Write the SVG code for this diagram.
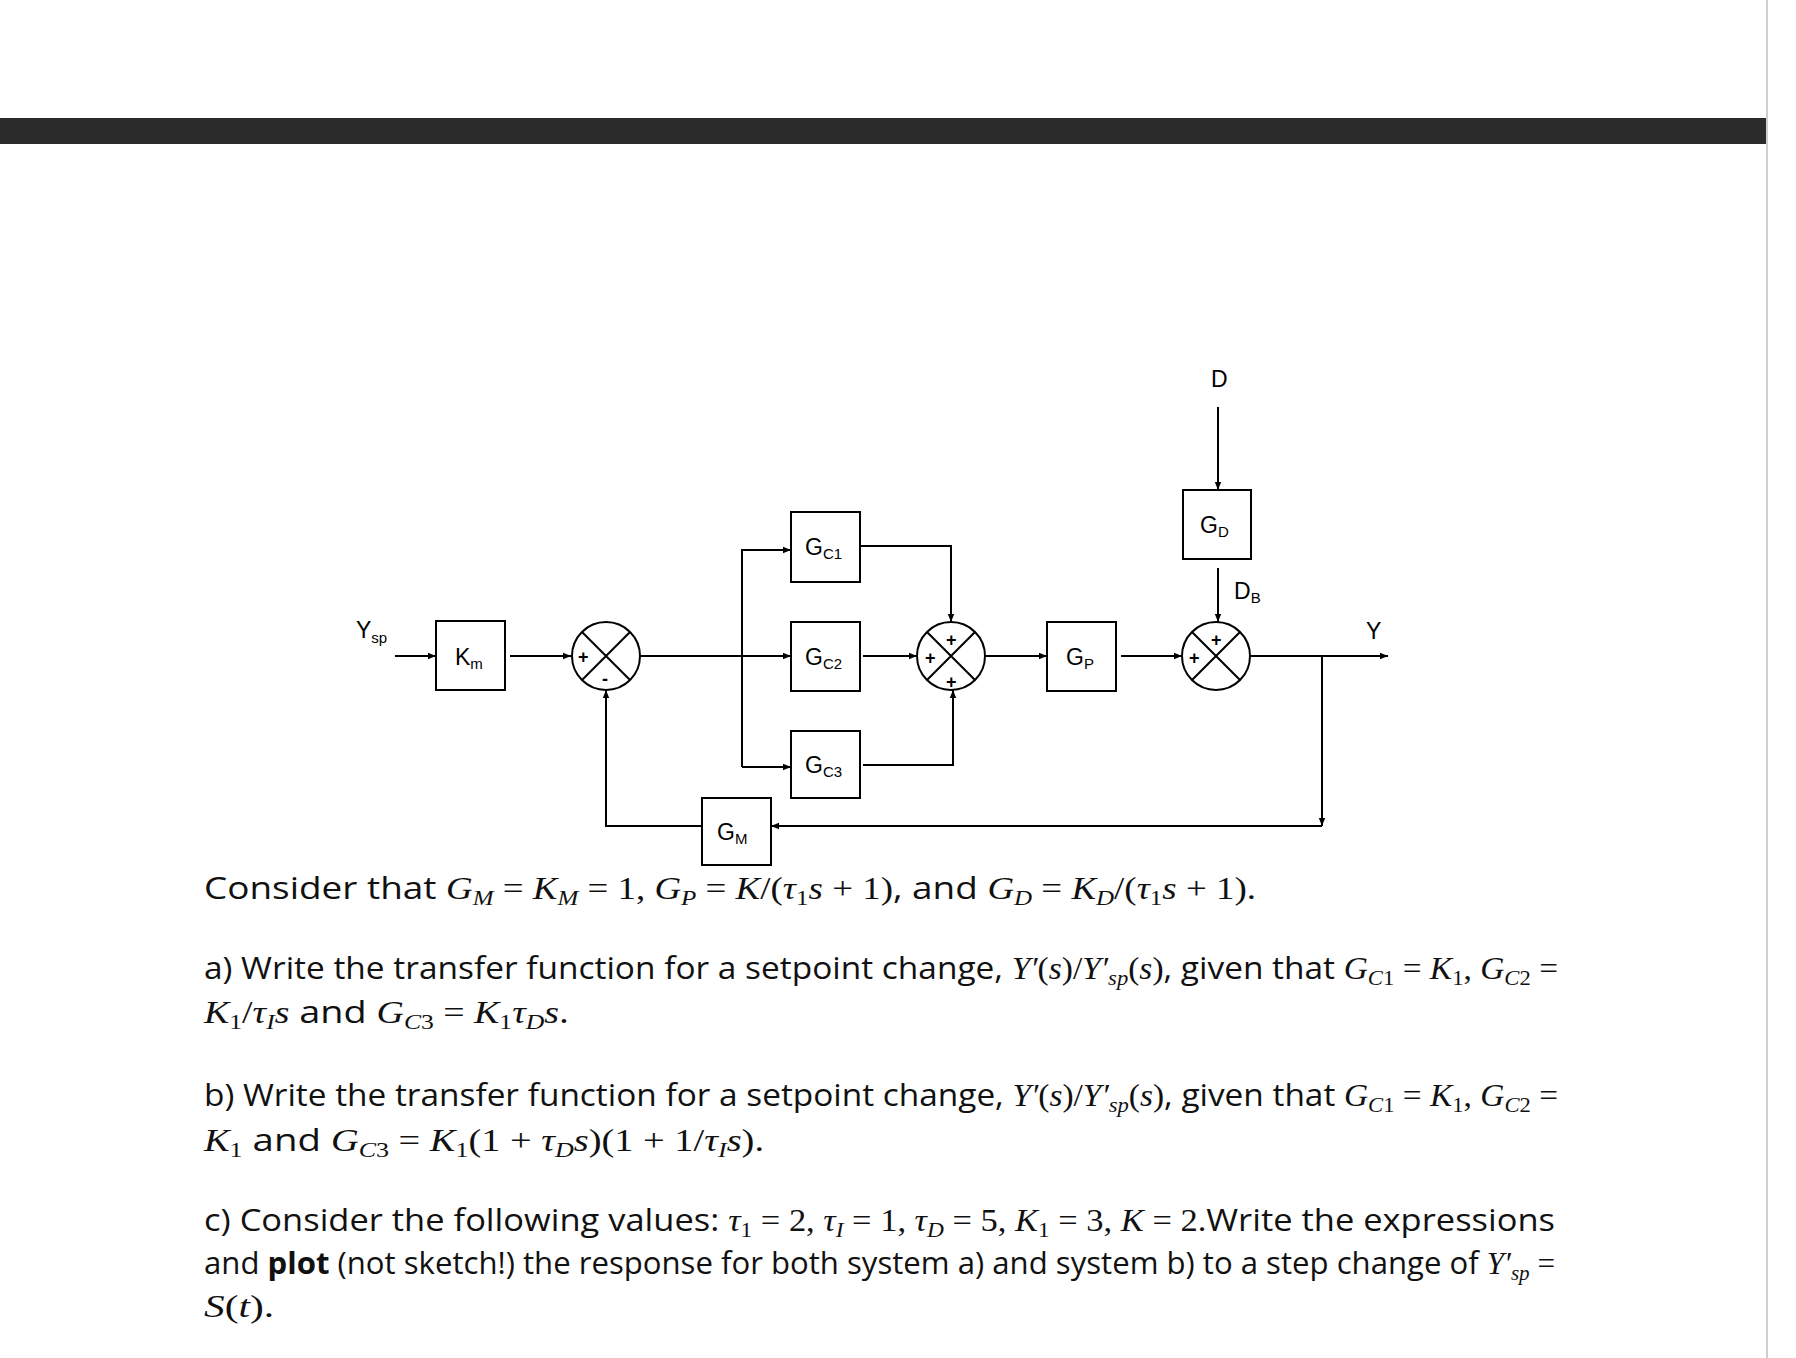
<svg xmlns="http://www.w3.org/2000/svg" width="1796" height="1358" viewBox="0 0 1796 1358">
<defs>
<marker id="ah" viewBox="0 0 10 10" refX="10" refY="5" markerWidth="8" markerHeight="8" markerUnits="userSpaceOnUse" orient="auto"><path d="M0,1 L10,5 L0,9 z" fill="#000"/></marker>
<style>
.b{fill:#fff;stroke:#000;stroke-width:2}
.l{fill:none;stroke:#000;stroke-width:2}
.t{font-family:"Liberation Sans",Arial,sans-serif;font-size:23px;fill:#000}
.s{font-size:15px}
.p{font-family:"Liberation Sans",Arial,sans-serif;font-size:18px;font-weight:bold}
.q{font-family:"Open Sans","Liberation Sans",sans-serif;font-size:31px;fill:#111}
.m{font-family:"Liberation Serif",serif;font-style:italic}
.n{font-family:"Liberation Serif",serif}
.u{font-size:21px}
</style>
</defs>
<rect width="1796" height="1358" fill="#fff"/>
<rect x="0" y="118" width="1767" height="26" fill="#2b2b2b"/>
<line x1="1767" y1="0" x2="1767" y2="1358" stroke="#cfcfcf" stroke-width="2"/>
<g id="connectors">
<path class="l" d="M395,656 H436" marker-end="url(#ah)"/>
<path class="l" d="M510,656 H571" marker-end="url(#ah)"/>
<path class="l" d="M640,656 H791" marker-end="url(#ah)"/>
<path class="l" d="M742,767 V550 H791" marker-end="url(#ah)"/>
<path class="l" d="M742,767 H791" marker-end="url(#ah)"/>
<path class="l" d="M861,546 H951 V622" marker-end="url(#ah)"/>
<path class="l" d="M863,656 H917" marker-end="url(#ah)"/>
<path class="l" d="M863,765 H953 V690" marker-end="url(#ah)"/>
<path class="l" d="M985,656 H1047" marker-end="url(#ah)"/>
<path class="l" d="M1121,656 H1182" marker-end="url(#ah)"/>
<path class="l" d="M1218,407 V490" marker-end="url(#ah)"/>
<path class="l" d="M1218,568 V622" marker-end="url(#ah)"/>
<path class="l" d="M1250,656 H1388" marker-end="url(#ah)"/>
<path class="l" d="M1322,656 V826" marker-end="url(#ah)"/>
<path class="l" d="M1322,826 H771" marker-end="url(#ah)"/>
<path class="l" d="M702,826 H606 V690" marker-end="url(#ah)"/>
</g>
<g id="Ysp"><text class="t" x="356" y="638">Y<tspan class="s" dy="5">sp</tspan></text></g>
<g id="Km"><rect class="b" x="436" y="621" width="69" height="69"/><text class="t" x="455" y="665">K<tspan class="s" dy="4">m</tspan></text></g>
<g id="sum1"><circle class="b" cx="606" cy="656" r="34"/><path class="l" d="M582,632 L630,680 M630,632 L582,680"/><text class="p" x="578" y="663">+</text><text class="p" x="602" y="685">-</text></g>
<g id="GC1"><rect class="b" x="791" y="512" width="69" height="70"/><text class="t" x="805" y="555">G<tspan class="s" dy="4">C1</tspan></text></g>
<g id="GC2"><rect class="b" x="791" y="622" width="69" height="69"/><text class="t" x="805" y="665">G<tspan class="s" dy="4">C2</tspan></text></g>
<g id="GC3"><rect class="b" x="791" y="731" width="69" height="67"/><text class="t" x="805" y="773">G<tspan class="s" dy="4">C3</tspan></text></g>
<g id="sum2"><circle class="b" cx="951" cy="656" r="34"/><path class="l" d="M927,632 L975,680 M975,632 L927,680"/><text class="p" x="946" y="646">+</text><text class="p" x="925" y="664">+</text><text class="p" x="946" y="688">+</text></g>
<g id="GP"><rect class="b" x="1047" y="622" width="69" height="69"/><text class="t" x="1066" y="665">G<tspan class="s" dy="4">P</tspan></text></g>
<g id="sum3"><circle class="b" cx="1216" cy="656" r="34"/><path class="l" d="M1192,632 L1240,680 M1240,632 L1192,680"/><text class="p" x="1211" y="646">+</text><text class="p" x="1189" y="664">+</text></g>
<g id="D"><text class="t" x="1211" y="387">D</text></g>
<g id="GD"><rect class="b" x="1183" y="490" width="68" height="69"/><text class="t" x="1200" y="533">G<tspan class="s" dy="4">D</tspan></text></g>
<g id="DB"><text class="t" x="1234" y="599">D<tspan class="s" dy="4">B</tspan></text></g>
<g id="Y"><text class="t" x="1366" y="639">Y</text></g>
<g id="GM"><rect class="b" x="702" y="798" width="69" height="67"/><text class="t" x="717" y="840">G<tspan class="s" dy="4">M</tspan></text></g>
<g id="text">
<text class="q" x="204" y="899" textLength="1052" lengthAdjust="spacingAndGlyphs">Consider that <tspan class="m">G</tspan><tspan class="m u" dy="6">M</tspan><tspan class="n" dy="-6"> = </tspan><tspan class="m">K</tspan><tspan class="m u" dy="6">M</tspan><tspan class="n" dy="-6"> = 1, </tspan><tspan class="m">G</tspan><tspan class="m u" dy="6">P</tspan><tspan class="n" dy="-6"> = </tspan><tspan class="m">K</tspan><tspan class="n">/(</tspan><tspan class="m">τ</tspan><tspan class="n u" dy="6">1</tspan><tspan class="m" dy="-6">s</tspan><tspan class="n"> + 1)</tspan>, and <tspan class="m">G</tspan><tspan class="m u" dy="6">D</tspan><tspan class="n" dy="-6"> = </tspan><tspan class="m">K</tspan><tspan class="m u" dy="6">D</tspan><tspan class="n" dy="-6">/(</tspan><tspan class="m">τ</tspan><tspan class="n u" dy="6">1</tspan><tspan class="m" dy="-6">s</tspan><tspan class="n"> + 1).</tspan></text>
<text class="q" x="204" y="979" textLength="1354" lengthAdjust="spacingAndGlyphs">a) Write the transfer function for a setpoint change, <tspan class="m">Y′</tspan><tspan class="n">(</tspan><tspan class="m">s</tspan><tspan class="n">)/</tspan><tspan class="m">Y′</tspan><tspan class="m u" dy="6">sp</tspan><tspan class="n" dy="-6">(</tspan><tspan class="m">s</tspan><tspan class="n">)</tspan>, given that <tspan class="m">G</tspan><tspan class="m u" dy="6">C</tspan><tspan class="n u">1</tspan><tspan class="n" dy="-6"> = </tspan><tspan class="m">K</tspan><tspan class="n u" dy="6">1</tspan><tspan class="n" dy="-6">, </tspan><tspan class="m">G</tspan><tspan class="m u" dy="6">C</tspan><tspan class="n u">2</tspan><tspan class="n" dy="-6"> =</tspan></text>
<text class="q" x="204" y="1023" textLength="365" lengthAdjust="spacingAndGlyphs"><tspan class="m">K</tspan><tspan class="n u" dy="6">1</tspan><tspan class="n" dy="-6">/</tspan><tspan class="m">τ</tspan><tspan class="m u" dy="6">I</tspan><tspan class="m" dy="-6">s</tspan> and <tspan class="m">G</tspan><tspan class="m u" dy="6">C</tspan><tspan class="n u">3</tspan><tspan class="n" dy="-6"> = </tspan><tspan class="m">K</tspan><tspan class="n u" dy="6">1</tspan><tspan class="m" dy="-6">τ</tspan><tspan class="m u" dy="6">D</tspan><tspan class="m" dy="-6">s</tspan>.</text>
<text class="q" x="204" y="1106" textLength="1354" lengthAdjust="spacingAndGlyphs">b) Write the transfer function for a setpoint change, <tspan class="m">Y′</tspan><tspan class="n">(</tspan><tspan class="m">s</tspan><tspan class="n">)/</tspan><tspan class="m">Y′</tspan><tspan class="m u" dy="6">sp</tspan><tspan class="n" dy="-6">(</tspan><tspan class="m">s</tspan><tspan class="n">)</tspan>, given that <tspan class="m">G</tspan><tspan class="m u" dy="6">C</tspan><tspan class="n u">1</tspan><tspan class="n" dy="-6"> = </tspan><tspan class="m">K</tspan><tspan class="n u" dy="6">1</tspan><tspan class="n" dy="-6">, </tspan><tspan class="m">G</tspan><tspan class="m u" dy="6">C</tspan><tspan class="n u">2</tspan><tspan class="n" dy="-6"> =</tspan></text>
<text class="q" x="204" y="1151" textLength="560" lengthAdjust="spacingAndGlyphs"><tspan class="m">K</tspan><tspan class="n u" dy="6">1</tspan><tspan dy="-6"> and </tspan><tspan class="m">G</tspan><tspan class="m u" dy="6">C</tspan><tspan class="n u">3</tspan><tspan class="n" dy="-6"> = </tspan><tspan class="m">K</tspan><tspan class="n u" dy="6">1</tspan><tspan class="n" dy="-6">(1 + </tspan><tspan class="m">τ</tspan><tspan class="m u" dy="6">D</tspan><tspan class="m" dy="-6">s</tspan><tspan class="n">)(1 + 1/</tspan><tspan class="m">τ</tspan><tspan class="m u" dy="6">I</tspan><tspan class="m" dy="-6">s</tspan><tspan class="n">).</tspan></text>
<text class="q" x="204" y="1231" textLength="1351" lengthAdjust="spacingAndGlyphs">c) Consider the following values: <tspan class="m">τ</tspan><tspan class="n u" dy="6">1</tspan><tspan class="n" dy="-6"> = 2, </tspan><tspan class="m">τ</tspan><tspan class="m u" dy="6">I</tspan><tspan class="n" dy="-6"> = 1, </tspan><tspan class="m">τ</tspan><tspan class="m u" dy="6">D</tspan><tspan class="n" dy="-6"> = 5, </tspan><tspan class="m">K</tspan><tspan class="n u" dy="6">1</tspan><tspan class="n" dy="-6"> = 3, </tspan><tspan class="m">K</tspan><tspan class="n"> = 2.</tspan>Write the expressions</text>
<text class="q" x="204" y="1274" textLength="1351" lengthAdjust="spacingAndGlyphs">and <tspan font-weight="bold">plot</tspan> (not sketch!) the response for both system a) and system b) to a step change of <tspan class="m">Y′</tspan><tspan class="m u" dy="6">sp</tspan><tspan class="n" dy="-6"> =</tspan></text>
<text class="q" x="204" y="1317" textLength="70" lengthAdjust="spacingAndGlyphs"><tspan class="m">S</tspan><tspan class="n">(</tspan><tspan class="m">t</tspan><tspan class="n">).</tspan></text>
</g>
</svg>
